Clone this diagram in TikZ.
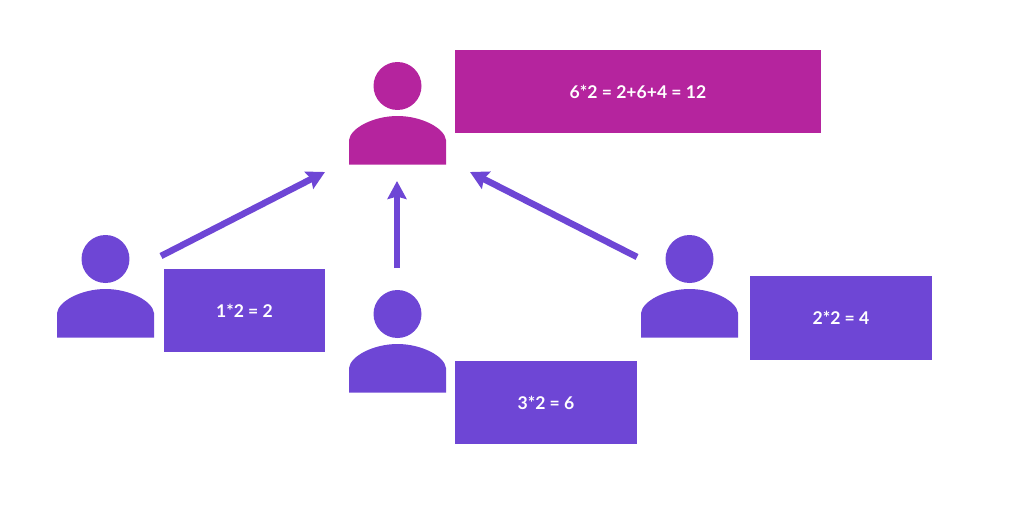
\documentclass[tikz,border=0pt]{standalone}
\usepackage{fontspec}
\setmainfont{Lato}
\usepackage{xcolor}
\usetikzlibrary{arrows.meta, positioning}
\definecolor{leafcol}{HTML}{6E46D5}
\definecolor{rootcol}{HTML}{B5249E}
\tikzset{> = { Stealth[length = 3.6mm, width = 3.8mm, inset = 0.5mm] }}
\tikzset{
	share/.style = {draw = leafcol, line width = 1.3mm, ->},
	tagbox/.style = {fill = #1, text = white, inner sep = 0pt, font = \fontsize{10}{12}\selectfont\bfseries},
	pics/person/.style = {code = {
		\node [circle, fill = #1, inner sep = 0pt, minimum width = 0.96cm] (-head) at (0, 0) {};
		\fill [#1] (-48.5, 78.5) -- (-48.5, 54) .. controls (-47, 42) and (-24, 30) .. (0, 30)
			.. controls (24, 30) and (47, 42) .. (48.5, 54) -- (48.5, 78.5) -- cycle;
	}}
}

\begin{document}
\begin{tikzpicture}[x = 0.02cm, y = -0.02cm]
	\useasboundingbox (0, 0) rectangle (1017, 531);

	\pic (root) at (397.5, 86) {person = rootcol};
	\pic (left) at (105.5, 259) {person = leafcol};
	\pic (mid) at (397.5, 314) {person = leafcol};
	\pic (right) at (689.5, 259) {person = leafcol};

	\node [tagbox = rootcol, minimum width = 7.32cm, minimum height = 1.66cm] (roottag) at (638, 91.5) {6*2 = 2+6+4 = 12};
	\node [tagbox = leafcol, minimum width = 3.22cm, minimum height = 1.66cm] (lefttag) at (244.5, 310.5) {1*2 = 2};
	\node [tagbox = leafcol, minimum width = 3.64cm, minimum height = 1.66cm] (midtag) at (546, 402.5) {3*2 = 6};
	\node [tagbox = leafcol, minimum width = 3.64cm, minimum height = 1.68cm] (righttag) at (841, 318) {2*2 = 4};

	\coordinate (leftout) at (161, 256);
	\coordinate (leftin) at (325, 172);
	\coordinate (midout) at (397, 268);
	\coordinate (midin) at (397, 181);
	\coordinate (rightout) at (637, 257);
	\coordinate (rightin) at (470, 172);

	\draw [share] (leftout) -- (leftin);
	\draw [share] (midout) -- (midin);
	\draw [share] (rightout) -- (rightin);
\end{tikzpicture}
\end{document}
